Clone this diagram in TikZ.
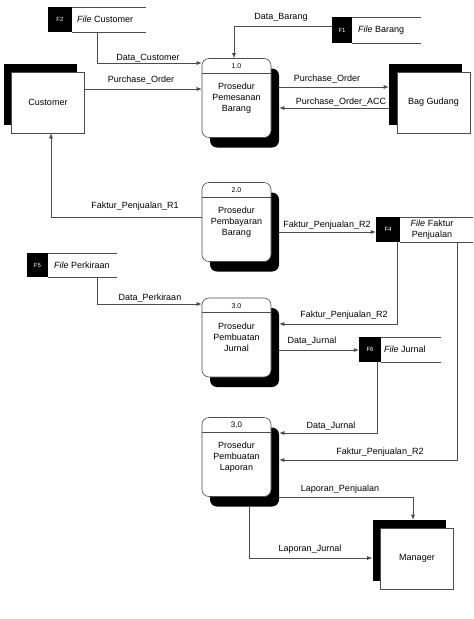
\documentclass[tikz,border=0pt]{standalone}
\usepackage{fontspec}
\setmainfont{Liberation Sans}
\usetikzlibrary{arrows.meta,shadows,calc}
\begin{document}
\begin{tikzpicture}[x=1pt,y=-1pt,
  font=\fontsize{9}{11}\selectfont,
  proc/.style={draw=black!70, line width=0.6pt, fill=white, rounded corners=7pt,
     minimum width=69pt, minimum height=79pt, inner sep=0pt,
     drop shadow={shadow xshift=8pt, shadow yshift=-10pt, fill=black, opacity=1}},
  ent/.style={draw=black!70, line width=0.6pt, fill=white,
     minimum width=73pt, minimum height=61pt, inner sep=0pt,
     drop shadow={shadow xshift=-8pt, shadow yshift=8pt, fill=black, opacity=1}},
  sbox/.style={fill=black, text=white, inner sep=0pt, font=\fontsize{6}{7}\selectfont},
  sline/.style={draw=black!70, line width=0.6pt},
  flow/.style={draw=black!70, line width=0.6pt, -{Latex[length=5pt,width=4pt]}},
  lbl/.style={inner sep=1pt},
  num/.style={inner sep=0pt, font=\fontsize{7}{8}\selectfont},
  ptxt/.style={inner sep=0pt, align=center},
  stxt/.style={inner sep=0pt, anchor=west},
]
\useasboundingbox (0,0) rectangle (474,619);

% ---------- external entities ----------
\node[ent] (cust) at (48,102.5) {Customer};
\node[ent] (bag) at (433.5,102.5) {Bag Gudang};
\node[ent] (man) at (417,558.5) {Manager};
\coordinate (bagw) at ([xshift=-8pt]bag.west);
\coordinate (mann) at ([yshift=8pt]man.north);
\coordinate (manw) at ([xshift=-8pt]man.west);

% ---------- processes ----------
\node[proc] (p1) at (236.5,98) {};
\node[proc] (p2) at (236.5,222) {};
\node[proc] (p3) at (236.5,337.5) {};
\node[proc] (p4) at (236.5,457) {};
\foreach \p in {p1,p2,p3,p4}{
  \draw[sline] ([yshift=-15pt]\p.north west) -- ([yshift=-15pt]\p.north east);
  \coordinate (\p e) at ([xshift=8pt]\p.east);
  \coordinate (\p s) at ([yshift=-10pt]\p.south);
}
\node[num] (n1) at ([yshift=-8pt]p1.north) {1.0};
\node[num] (n2) at ([yshift=-8pt]p2.north) {2.0};
\node[num] (n3) at ([yshift=-8pt]p3.north) {3.0};
\node[num, font=\fontsize{8}{9}\selectfont] (n4) at ([yshift=-8pt]p4.north) {3,0};
\node[ptxt] (t1) at (p1.center) {Prosedur\\Pemesanan\\Barang};
\node[ptxt] (t2) at (p2.center) {Prosedur\\Pembayaran\\Barang};
\node[ptxt] (t3) at (p3.center) {Prosedur\\Pembuatan\\Jurnal};
\node[ptxt] (t4) at (p4.center) {Prosedur\\Pembuatan\\Laporan};

% ---------- data stores ----------
\node[sbox, minimum width=24pt, minimum height=25pt] (f2) at (60,19.5) {F2};
\node[sbox, minimum width=20pt, minimum height=26pt] (f1) at (342,30) {F1};
\node[sbox, minimum width=24pt, minimum height=25pt] (f4) at (388,229.5) {F4};
\node[sbox, minimum width=21pt, minimum height=24pt] (f5) at (37.5,265) {F5};
\node[sbox, minimum width=22pt, minimum height=25pt] (f6) at (370,349.5) {F6};
\draw[sline] (f2.north east) -- (f2.north east -| 146,0);
\draw[sline] (f2.south east) -- (f2.south east -| 146,0);
\draw[sline] (f1.north east) -- (f1.north east -| 421,0);
\draw[sline] (f1.south east) -- (f1.south east -| 421,0);
\draw[sline] (f4.north east) -- (f4.north east -| 473,0);
\draw[sline] (f4.south east) -- (f4.south east -| 473,0);
\draw[sline] (f5.north east) -- (f5.north east -| 117,0);
\draw[sline] (f5.south east) -- (f5.south east -| 117,0);
\draw[sline] (f6.north east) -- (f6.north east -| 441,0);
\draw[sline] (f6.south east) -- (f6.south east -| 441,0);
\node[stxt] (s2) at (77,19.5) {\textit{File} Customer};
\node[stxt] (s1) at (358,30) {\textit{File} Barang};
\node[inner sep=0pt, align=center] (s4) at (432,229.5) {\textit{File} Faktur\\Penjualan};
\node[stxt] (s5) at (54,265) {\textit{File} Perkiraan};
\node[stxt] (s6) at (384,349.5) {\textit{File} Jurnal};

% ---------- flows ----------
\draw[flow] (f2.south -| 97,0) |- (p1.west |- 0,63);
\node[lbl] (l1) at (148,58) {Data\_Customer};

\draw[flow] (cust.east |- 0,89) -- (p1.west |- 0,89);
\node[lbl] (l2) at (141,80) {Purchase\_Order};

\draw[flow] (f1.west |- 0,26) -| (p1.north -| 234,0);
\node[lbl] (l3) at (281,17) {Data\_Barang};

\draw[flow] (p1e |- 0,87) -- (bagw |- 0,87);
\node[lbl] (l4) at (327,79) {Purchase\_Order};

\draw[flow] (bagw |- 0,108) -- (p1e |- 0,108);
\node[lbl] (l5) at (341,102) {Purchase\_Order\_ACC};

\draw[flow] (p2.west |- 0,217) -| (cust.south -| 51,0);
\node[lbl] (l6) at (135,206) {Faktur\_Penjualan\_R1};

\draw[flow] (p2e |- 0,232) -- (f4.west |- 0,232);
\node[lbl] (l7) at (327,225) {Faktur\_Penjualan\_R2};

\draw[flow] (f4.south -| 397,0) |- (p3e |- 0,324);
\node[lbl] (l8) at (344,315) {Faktur\_Penjualan\_R2};

\draw[flow] (f5.south -| 97,0) |- (p3.west |- 0,304);
\node[lbl] (l9) at (150,298) {Data\_Perkiraan};

\draw[flow] (p3e |- 0,350) -- (f6.west |- 0,350);
\node[lbl] (l10) at (312,341) {Data\_Jurnal};

\draw[flow] (f6.south -| 377,0) |- (p4e |- 0,433);
\node[lbl] (l11) at (331,426) {Data\_Jurnal};

\draw[flow] (f4.south -| 457,0) |- (p4e |- 0,460);
\node[lbl] (l12) at (380,452) {Faktur\_Penjualan\_R2};

\draw[flow] (p4e |- 0,497) -| (mann -| 413,0);
\node[lbl] (l13) at (340,489) {Laporan\_Penjualan};

\draw[flow] (p4s -| 249,0) |- (manw |- 0,558);
\node[lbl] (l14) at (310,549) {Laporan\_Jurnal};
\end{tikzpicture}
\end{document}
